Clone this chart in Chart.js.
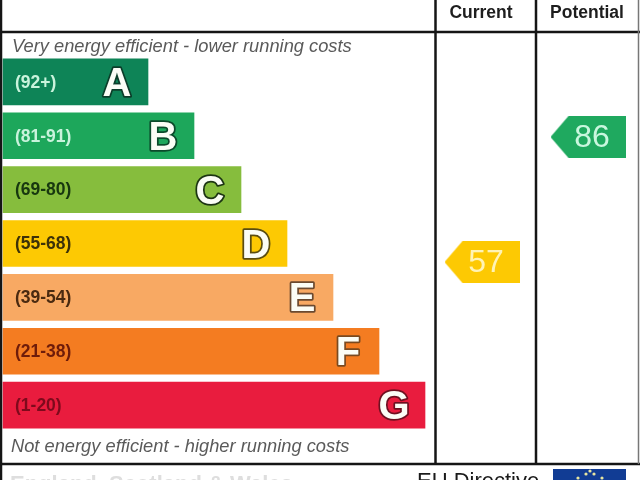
<!DOCTYPE html>
<html>
<head>
<meta charset="utf-8">
<title>Energy Efficiency Rating</title>
<script src="https://cdn.jsdelivr.net/npm/chart.js@4"></script>
<style>
  html, body { margin: 0; padding: 0; background: #fff; overflow: hidden; }
  canvas { display: block; filter: blur(0.45px); }
</style>
</head>
<body>
<canvas id="chart" width="640" height="480"></canvas>
<script>
// values
const bandLetters = ['A', 'B', 'C', 'D', 'E', 'F', 'G'];
const bandRanges = ['(92+)', '(81-91)', '(69-80)', '(55-68)', '(39-54)', '(21-38)', '(1-20)'];
const bandLengths = [145, 191, 238, 284, 330, 376, 422];
const bandColors = ['#0e8457', '#1da75b', '#86bd3d', '#fdc903', '#f8a963', '#f47c21', '#e91c3e'];
const rangeColors = ['#c9f3dc', '#c9f3dc', '#17370f', '#3d3208', '#4a2a10', '#6e1c0a', '#7d0a1c'];
const letterEdges = ['#0b3d29', '#0b4a2b', '#1c3512', '#5a4d10', '#6b4a30', '#7a4a20', '#6e1020'];

const columnNames = ['Current', 'Potential'];
const columnCenters = [479, 585];
const ratings = [57, 86];
const ratingColors = ['#fdc903', '#1fa95f'];
const ratingTextColors = ['#fff3b5', '#c9f7de'];

// arrow marker used as the point style of the rating points
function arrowMarker(color) {
  const c = document.createElement('canvas');
  c.width = 75;
  c.height = 42;
  const g = c.getContext('2d');
  g.fillStyle = color;
  g.beginPath();
  g.moveTo(0, 21);
  g.lineTo(18, 0);
  g.lineTo(75, 0);
  g.lineTo(75, 42);
  g.lineTo(18, 42);
  g.closePath();
  g.fill();
  return c;
}

function drawFrame(ctx) {
  ctx.strokeStyle = '#151515';
  ctx.lineWidth = 2.5;
  const lines = [
    [1, 0, 1, 480],
    [0, 32, 640, 32],
    [0, 464, 640, 464],
    [435.5, 0, 435.5, 464],
    [536, 0, 536, 464]
  ];
  lines.forEach(([x1, y1, x2, y2]) => {
    ctx.beginPath();
    ctx.moveTo(x1, y1);
    ctx.lineTo(x2, y2);
    ctx.stroke();
  });
  ctx.strokeStyle = '#777';
  ctx.lineWidth = 1.5;
  ctx.beginPath();
  ctx.moveTo(638.5, 0);
  ctx.lineTo(638.5, 464);
  ctx.stroke();
}

function drawFooter(ctx) {
  ctx.textBaseline = 'alphabetic';
  ctx.textAlign = 'left';
  ctx.fillStyle = '#dedede';
  ctx.font = 'bold 22px "Liberation Sans"';
  ctx.fillText('England, Scotland & Wales', 10, 491);
  ctx.fillStyle = '#1a1a1a';
  ctx.font = '22px "Liberation Sans"';
  ctx.fillText('EU Directive', 417, 488);
  ctx.fillStyle = '#113c94';
  ctx.fillRect(553, 469, 73, 11);
  ctx.fillStyle = '#e8e6a0';
  [[578, 478], [586, 474], [590, 471], [594, 474], [602, 478]].forEach(([x, y]) => {
    ctx.beginPath();
    ctx.arc(x, y, 1.6, 0, Math.PI * 2);
    ctx.fill();
  });
}

const ratingLabels = {
  id: 'ratingLabels',
  afterDatasetsDraw(chart) {
    const ctx = chart.ctx;
    ctx.save();
    drawFrame(ctx);

    // header and captions
    ctx.textBaseline = 'alphabetic';
    ctx.textAlign = 'center';
    ctx.fillStyle = '#1e1e1e';
    ctx.font = 'bold 17.5px "Liberation Sans"';
    columnNames.forEach((name, i) => {
      ctx.fillText(name, columnCenters[i] + 2, 18);
    });
    ctx.textAlign = 'left';
    ctx.fillStyle = '#5a5a5a';
    ctx.font = 'italic 18.3px "Liberation Sans"';
    ctx.fillText('Very energy efficient - lower running costs', 12, 52);
    ctx.fillText('Not energy efficient - higher running costs', 11, 452);

    // band ranges and letters
    const bars = chart.getDatasetMeta(0).data;
    bars.forEach((bar, i) => {
      ctx.textBaseline = 'middle';
      ctx.textAlign = 'left';
      ctx.fillStyle = rangeColors[i];
      ctx.font = 'bold 17.5px "Liberation Sans"';
      ctx.fillText(bandRanges[i], 15, bar.y + 1);
      ctx.textAlign = 'center';
      ctx.font = 'bold 40px "Liberation Sans"';
      ctx.lineWidth = 3.5;
      ctx.lineJoin = 'round';
      ctx.strokeStyle = letterEdges[i];
      ctx.strokeText(bandLetters[i], bar.x - 31, bar.y + 3);
      ctx.fillStyle = '#fbfdf6';
      ctx.fillText(bandLetters[i], bar.x - 31, bar.y + 3);
    });

    // rating numbers on the arrows
    ctx.font = '32px "Liberation Sans"';
    ctx.textAlign = 'center';
    ratings.forEach((value, i) => {
      const pt = chart.getDatasetMeta(i + 1).data[0];
      ctx.fillStyle = ratingTextColors[i];
      ctx.fillText(String(value), pt.x + 4, pt.y + 1);
    });

    drawFooter(ctx);
    ctx.restore();
  }
};

new Chart(document.getElementById('chart'), {
  data: {
    labels: bandLetters,
    datasets: [
      {
        type: 'bar',
        indexAxis: 'y',
        data: bandLengths,
        backgroundColor: bandColors,
        barThickness: 46,
        xAxisID: 'x',
        yAxisID: 'y'
      },
      ...ratings.map((value, i) => ({
        type: 'scatter',
        indexAxis: 'x',
        label: columnNames[i],
        data: [{ x: columnCenters[i], y: value }],
        pointStyle: arrowMarker(ratingColors[i]),
        xAxisID: 'x',
        yAxisID: 'rating'
      }))
    ]
  },
  options: {
    responsive: false,
    animation: false,
    devicePixelRatio: 1,
    layout: { autoPadding: false, padding: { top: 55, bottom: 48, left: 0, right: 0 } },
    plugins: { legend: { display: false }, tooltip: { enabled: false } },
    scales: {
      x: { type: 'linear', display: false, min: -3, max: 637 },
      y: { type: 'category', display: false, offset: true, grid: { display: false } },
      rating: { type: 'linear', display: false, position: 'right', min: 17.6, max: 105 }
    }
  },
  plugins: [ratingLabels]
});
</script>
</body>
</html>
